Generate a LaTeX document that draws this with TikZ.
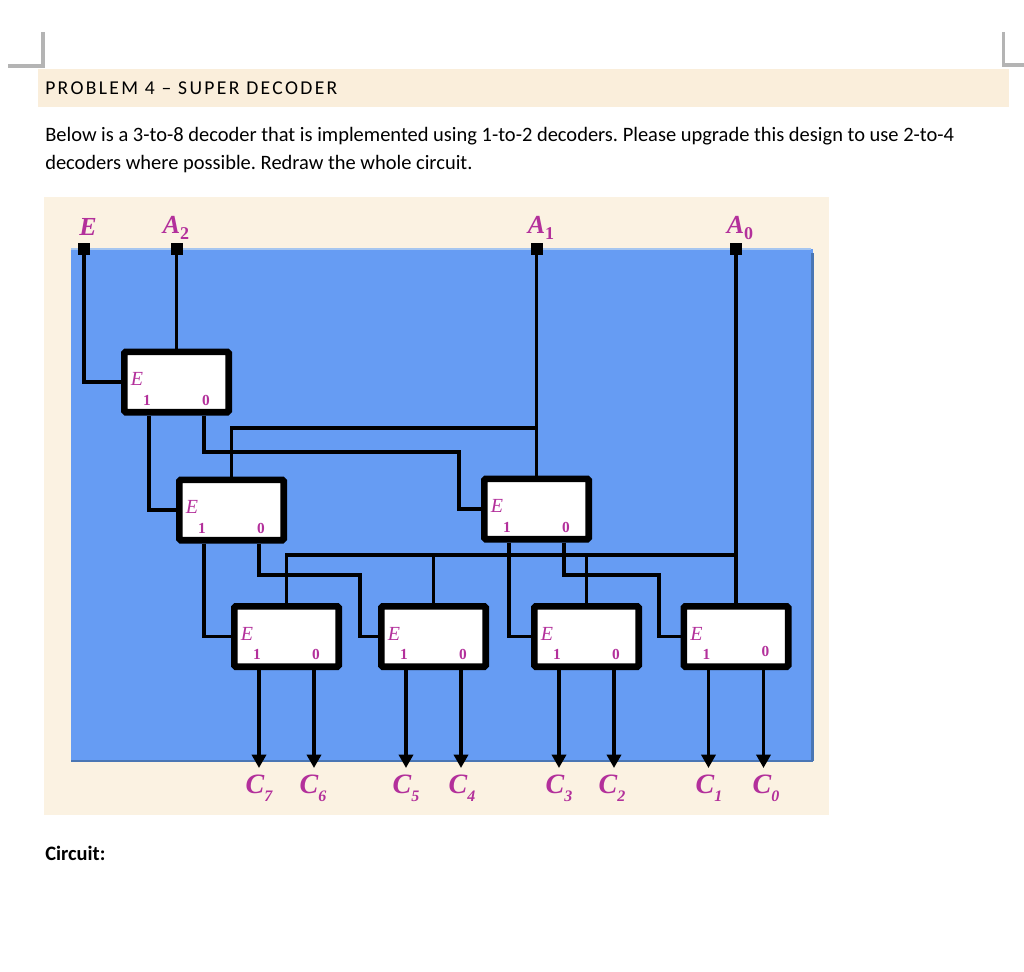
\documentclass[tikz,border=0pt]{standalone}
\usepackage{fontspec}
\setmainfont{Carlito}
\newfontfamily\headfont[LetterSpace=12]{Carlito}
\newfontfamily\diagfont{Liberation Serif}
\usetikzlibrary{calc,arrows.meta}
\definecolor{cream}{HTML}{FBF2E2}
\definecolor{band}{HTML}{FAEEDB}
\definecolor{panelblue}{HTML}{669CF3}
\definecolor{edgeblue}{HTML}{4A76B4}
\definecolor{topedge}{HTML}{A6C6F0}
\definecolor{magentaink}{HTML}{B3309B}
\definecolor{cropgrey}{HTML}{B4B4B4}
\tikzset{
  decoder/.style={draw=black,fill=white,line width=5pt,rounded corners=1pt,inner sep=0pt,minimum width=78.25pt,minimum height=45.25pt},
  wire/.style={draw=black,line width=2.45pt},
  outwire/.style={draw=black,line width=2.6pt,-{Triangle[length=10pt,width=10.5pt]}},
  pin/.style={fill=black,inner sep=0pt,minimum size=9pt},
  portE/.style={text=magentaink,font=\diagfont\itshape\fontsize{15}{16}\selectfont,inner sep=0pt},
  portN/.style={text=magentaink,font=\diagfont\bfseries\fontsize{11.5}{12}\selectfont,inner sep=0pt},
  sigin/.style={text=magentaink,font=\diagfont\bfseries\itshape\fontsize{19.5}{20}\selectfont,inner sep=0pt},
  sigout/.style={text=magentaink,font=\diagfont\bfseries\itshape\fontsize{21}{22}\selectfont,inner sep=0pt},
  body/.style={anchor=base west,inner sep=0pt,font=\fontsize{15.35}{18}\selectfont},
  crop/.style={draw=cropgrey,line width=2.4pt}
}
\newcommand{\decoderbox}[4][18]{%
  \node[decoder] (#2) at (#3,#4) {};
  \node[portE] (#2E) at ($(#2.west)+(16,-3)$) {E};
  \node[portN] (#2n1) at ($(#2.west)+(26,18)$) {1};
  \node[portN] (#2n0) at ($(#2.west)+(85,#1)$) {0};
  \coordinate (#2o1) at ($(#2.south west)+(28,0)$);
  \coordinate (#2o0) at ($(#2.south west)+(83,0)$);
}
\newcommand{\sigoutlabel}[4]{%
  \node[sigout] (#1) at (#2,#3) {C\raisebox{-0.3em}{\fontsize{12}{12}\selectfont #4}};
}
\newcommand{\siginlabel}[4]{%
  \node[sigin] (#1) at (#2,#3) {A\raisebox{-0.22em}{\fontsize{13.5}{14}\selectfont\upshape\bfseries #4}};
}
\frenchspacing
\begin{document}
\begin{tikzpicture}[x=0.75pt,y=-0.75pt]
\useasboundingbox (0,0) rectangle (1024,971);
\fill[white] (0,0) rectangle (1024,971);
% page furniture
\draw[crop] (8,66) -- (43,66) -- (43,32);
\draw[crop] (1003.5,32) -- (1003.5,65) -- (1024,65);
\fill[band] (38,69) rectangle (1009,107);
\node[anchor=base west,inner sep=0pt,font=\headfont\fontsize{14.7}{16}\selectfont] (title) at (45,94) {PROBLEM 4 – SUPER DECODER};
\node[body] (line1) at (45,141) {Below is a 3-to-8 decoder that is implemented using 1-to-2 decoders. Please upgrade this design to use 2-to-4};
\node[body] (line2) at (45,169) {decoders where possible. Redraw the whole circuit.};
\node[body,font=\bfseries\fontsize{15.35}{18}\selectfont] (circ) at (45,860) {Circuit:};
% panel
\fill[cream] (44,197) rectangle (829,815);
\fill[panelblue] (71,249) rectangle (813,761);
\draw[topedge,line width=0.8pt] (71,249) -- (811,249);
\draw[edgeblue,line width=2pt] (812.5,253) -- (812.5,761);
\draw[edgeblue,line width=1.2pt] (813,761) -- (71,761);
% pins
\node[pin] (pE) at (84,249) {};
\node[pin] (pA2) at (176.5,249) {};
\node[pin] (pA1) at (536.5,249) {};
\node[pin] (pA0) at (736,249) {};
\node[sigin] (lE) at (88,227) {E};
\siginlabel{lA2}{176}{228}{2}
\siginlabel{lA1}{541}{228}{1}
\siginlabel{lA0}{740}{228}{0}
% decoders
\decoderbox{dA}{176.5}{382}
\decoderbox{dB}{231.5}{510}
\decoderbox{dC}{536.5}{509}
\decoderbox{dD}{286.5}{636.5}
\decoderbox{dE}{433.5}{636.5}
\decoderbox{dF}{586.5}{636.5}
\decoderbox[15]{dG}{736}{636.5}
% helper points
\coordinate (busA) at (536.5,428);
\coordinate (busB) at (736,555);
\coordinate (bendA) at (459,452);
\coordinate (bendB) at (360,575);
\coordinate (bendC) at (659,575);
% top wires
\draw[wire] (pE) |- (dA.west);
\draw[wire] (pA2) -- (dA.north);
\draw[wire] (pA1) -- (dC.north);
\draw[wire] (pA0) -- (dG.north);
\draw[wire] (busA) -| (dB.north);
\draw[wire] (dAo1) |- (dB.west);
\draw[wire] (dAo0) |- (bendA) |- (dC.west);
% lower wires
\draw[wire] (busB) -| (dD.north);
\draw[wire] (dE.north) -- (dE.north |- busB);
\draw[wire] (dF.north) -- (dF.north |- busB);
\draw[wire] (dBo1) |- (dD.west);
\draw[wire] (dBo0) |- (bendB) |- (dE.west);
\draw[wire] (dCo1) |- (dF.west);
\draw[wire] (dCo0) |- (bendC) |- (dG.west);
% outputs
\sigoutlabel{c7}{259}{788}{7}
\sigoutlabel{c6}{313}{788}{6}
\sigoutlabel{c5}{406}{788}{5}
\sigoutlabel{c4}{462}{788}{4}
\sigoutlabel{c3}{559}{788}{3}
\sigoutlabel{c2}{612}{788}{2}
\sigoutlabel{c1}{709}{788}{1}
\sigoutlabel{c0}{766}{788}{0}
\foreach \b/\p/\l in {dD/o1/c7,dD/o0/c6,dE/o1/c5,dE/o0/c4,dF/o1/c3,dF/o0/c2,dG/o1/c1,dG/o0/c0}{
  \coordinate (e\l) at (\b\p |- 0,768);
  \draw[outwire] (\b\p) -- (e\l);
}
\end{tikzpicture}
\end{document}
